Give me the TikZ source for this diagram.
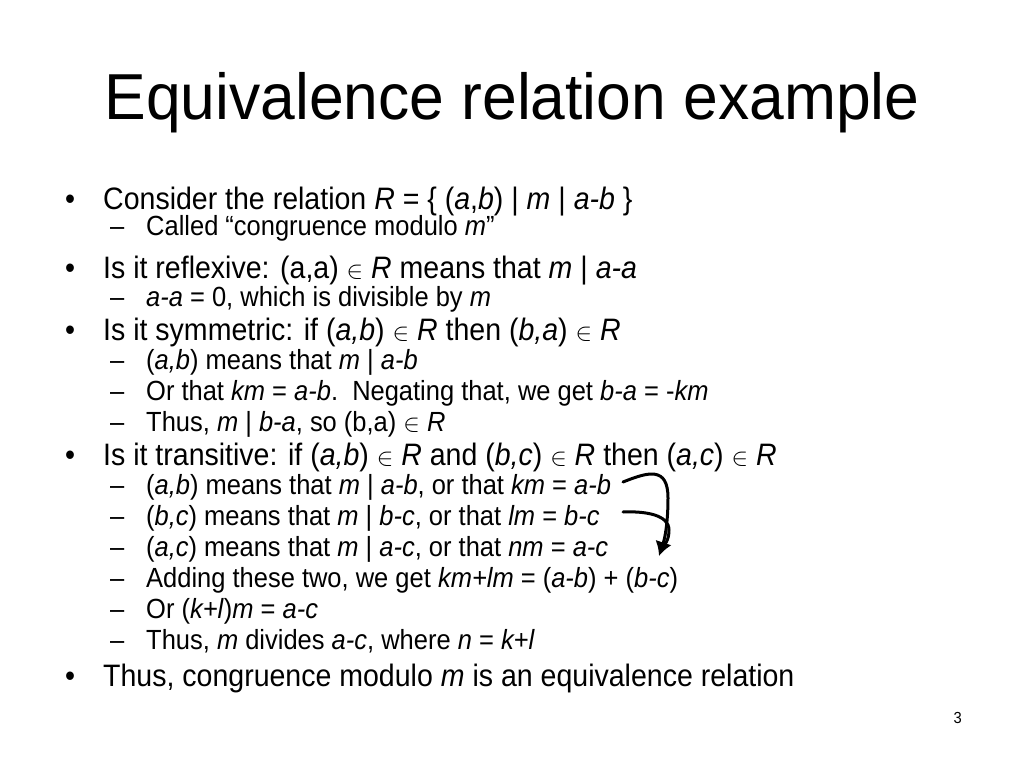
\documentclass[tikz,border=0pt]{standalone}
\usepackage{fontspec}
\setmainfont{Liberation Sans}[FakeStretch=0.92]
\newfontfamily\titlefont{Liberation Sans}[FakeStretch=0.96]
\usetikzlibrary{arrows.meta}

\begin{document}
\begin{tikzpicture}[x=1bp,y=-1bp,
    title/.style={anchor=base,font=\titlefont\fontsize{65bp}{70bp}\selectfont},
    main/.style={anchor=base west,font=\fontsize{31bp}{34bp}\selectfont},
    sub/.style={anchor=base west,font=\fontsize{27.7bp}{30bp}\selectfont},
    pen/.style={line width=3bp,line cap=round}]
        \tikzstyle{every node}+=[inner sep=0pt]
        \useasboundingbox[fill=white] (0,0) rectangle (1024,768);
        \node[title] (title) at (512,119) {Equivalence relation example};
        % first bullet
        \node[main] (b1) at (65,209) {\textbullet};
        \node[main] (l1) at (103,209) {Consider the relation \textit{R} = \{ (\textit{a},\textit{b}) | \textit{m} | \textit{a-b} \}};
        \node[sub] (d1) at (110,235) {--};
        \node[sub] (s1) at (146,235) {Called “congruence modulo \textit{m}”};
        % reflexive
        \node[main] (b2) at (65,278) {\textbullet};
        \node[main] (l2) at (103,278) {Is it reflexive: (a,a) $\in$ \textit{R} means that \textit{m} | \textit{a-a}};
        \node[sub] (d2) at (110,306) {--};
        \node[sub] (s2) at (146,306) {\textit{a-a} = 0, which is divisible by \textit{m}};
        % symmetric
        \node[main] (b3) at (65,340) {\textbullet};
        \node[main] (l3) at (103,340) {Is it symmetric: if (\textit{a,b}) $\in$ \textit{R} then (\textit{b,a}) $\in$ \textit{R}};
        \node[sub] (d3) at (110,369) {--};
        \node[sub] (s3) at (146,369) {(\textit{a,b}) means that \textit{m} | \textit{a-b}};
        \node[sub] (d4) at (110,400) {--};
        \node[sub] (s4) at (146,400) {Or that \textit{km} = \textit{a-b}.\ \ Negating that, we get \textit{b-a} = -\textit{km}};
        \node[sub] (d5) at (110,431) {--};
        \node[sub] (s5) at (146,431) {Thus, \textit{m} | \textit{b-a}, so (b,a) $\in$ \textit{R}};
        % transitive
        \node[main] (b4) at (65,465) {\textbullet};
        \node[main] (l4) at (103,465) {Is it transitive: if (\textit{a,b}) $\in$ \textit{R} and (\textit{b,c}) $\in$ \textit{R} then (\textit{a,c}) $\in$ \textit{R}};
        \node[sub] (d6) at (110,494) {--};
        \node[sub] (ab) at (146,494) {(\textit{a,b}) means that \textit{m} | \textit{a-b}, or that \textit{km} = \textit{a-b}};
        \node[sub] (d7) at (110,525) {--};
        \node[sub] (bc) at (146,525) {(\textit{b,c}) means that \textit{m} | \textit{b-c}, or that \textit{lm} = \textit{b-c}};
        \node[sub] (d8) at (110,556) {--};
        \node[sub] (ac) at (146,556) {(\textit{a,c}) means that \textit{m} | \textit{a-c}, or that \textit{nm} = \textit{a-c}};
        \node[sub] (d9) at (110,587) {--};
        \node[sub] (s9) at (146,587) {Adding these two, we get \textit{km+lm} = (\textit{a-b}) + (\textit{b-c})};
        \node[sub] (d10) at (110,618) {--};
        \node[sub] (s10) at (146,618) {Or (\textit{k+l})\textit{m} = \textit{a-c}};
        \node[sub] (d11) at (110,649) {--};
        \node[sub] (s11) at (146,649) {Thus, \textit{m} divides \textit{a-c}, where \textit{n} = \textit{k+l}};
        % conclusion
        \node[main] (b5) at (65,686) {\textbullet};
        \node[main] (l5) at (103,686) {Thus, congruence modulo \textit{m} is an equivalence relation};
        \node[anchor=base east,font=\fontsize{16bp}{20bp}\selectfont] (page) at (962,723) {3};
        % hand drawn arrow
        \coordinate (fromab) at (623,482);
        \coordinate (frombc) at (623,512);
        \coordinate (tip) at (659,556);
        \draw[pen] (frombc) .. controls (646,511) and (669,515) .. (669,530) .. controls (669,540) and (665,545) .. (661,549);
        \draw[pen,-{Latex[length=14bp,width=17bp]}] (fromab) .. controls (648,472) and (668,466) .. (668,498) .. controls (668,522) and (665,538) .. (tip);
\end{tikzpicture}
\end{document}
